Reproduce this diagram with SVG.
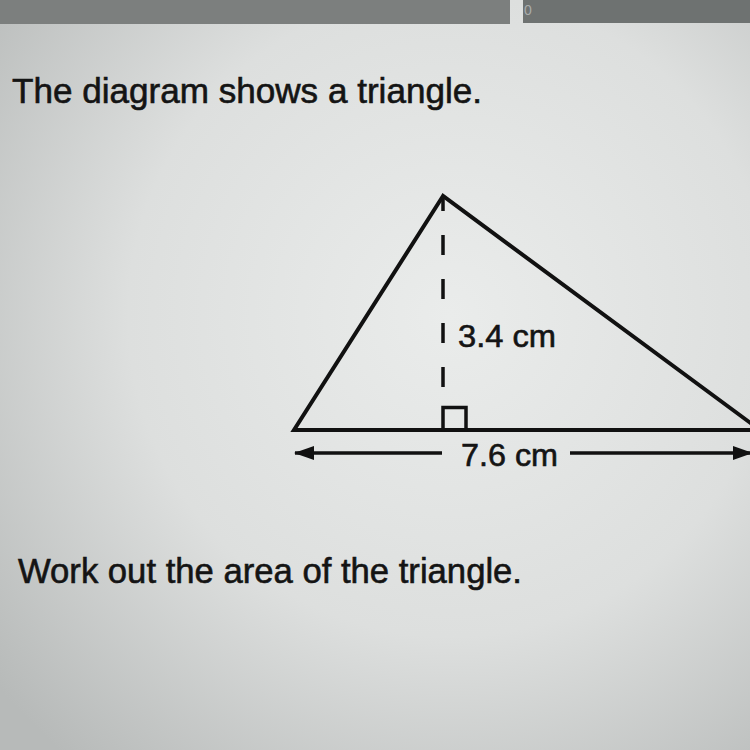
<svg xmlns="http://www.w3.org/2000/svg" width="750" height="750" viewBox="0 0 750 750">
  <defs>
    <radialGradient id="bg" cx="0.6" cy="0.42" r="0.78">
      <stop offset="0" stop-color="#eaeceb"/>
      <stop offset="0.55" stop-color="#dddfde"/>
      <stop offset="1" stop-color="#b7bab9"/>
    </radialGradient>
    <marker id="arrow" viewBox="0 0 20 14" refX="19" refY="7" markerWidth="20" markerHeight="14" markerUnits="userSpaceOnUse" orient="auto-start-reverse">
      <path d="M0,0 L20,7 L0,14 Z" fill="#111"/>
    </marker>
    <style>
      .txt { font-family: "Liberation Sans", Arial, sans-serif; fill: #141414; stroke: #141414; stroke-width: 0.6; }
      .edge { stroke: #111; stroke-width: 4; fill: none; stroke-linejoin: miter; }
      .dim { stroke: #111; stroke-width: 3.5; fill: none; }
    </style>
  </defs>
  <rect x="0" y="0" width="750" height="750" fill="url(#bg)"/>
  <g id="topbar">
    <rect x="0" y="0" width="510" height="24" fill="#7c7f7e"/>
    <rect x="523" y="0" width="227" height="23" fill="#6e7271"/>
    <text x="524" y="15" font-family="Liberation Sans, sans-serif" font-size="14" fill="#a9acab">0</text>
  </g>
  <g id="title">
    <text class="txt" x="12" y="103" font-size="35" textLength="470" lengthAdjust="spacingAndGlyphs">The diagram shows a triangle.</text>
  </g>
  <g id="triangle">
    <path class="edge" d="M443,196 L294,430 L760,430 Z"/>
    <rect x="443" y="407.5" width="23" height="22.5" class="dim" stroke-width="3"/>
  </g>
  <g id="connectors">
    <line x1="443" y1="196" x2="443" y2="408" class="dim" stroke-dasharray="20 24" stroke-dashoffset="5"/>
    <line x1="442" y1="453" x2="295" y2="453" class="dim" marker-end="url(#arrow)"/>
    <line x1="570" y1="453" x2="752" y2="453" class="dim" marker-end="url(#arrow)"/>
  </g>
  <g id="label-height">
    <text class="txt" x="458" y="347" font-size="31" stroke-width="0.3" textLength="98" lengthAdjust="spacingAndGlyphs">3.4 cm</text>
  </g>
  <g id="label-base">
    <text class="txt" x="461" y="466" font-size="31" stroke-width="0.3" textLength="97" lengthAdjust="spacingAndGlyphs">7.6 cm</text>
  </g>
  <g id="question">
    <text class="txt" x="18" y="583" font-size="35" textLength="504" lengthAdjust="spacingAndGlyphs">Work out the area of the triangle.</text>
  </g>
</svg>
